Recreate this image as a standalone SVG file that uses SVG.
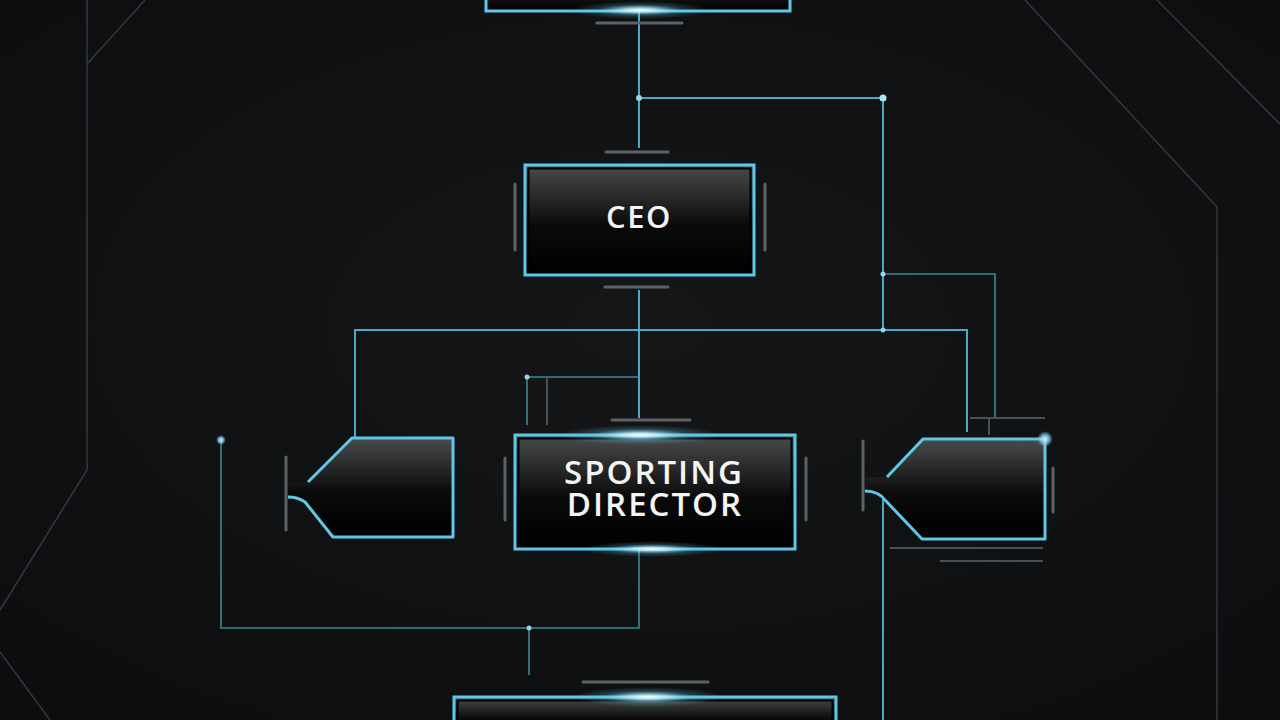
<svg xmlns="http://www.w3.org/2000/svg" width="1280" height="720" viewBox="0 0 1280 720">
<defs>
<radialGradient id="bg" cx="50%" cy="45%" r="75%">
<stop offset="0" stop-color="#151617"/>
<stop offset="1" stop-color="#0c0d0f"/>
</radialGradient>
<linearGradient id="fill" x1="0" y1="0" x2="0" y2="1">
<stop offset="0" stop-color="#4a4b4c"/>
<stop offset="0.55" stop-color="#0a0a0a"/>
<stop offset="1" stop-color="#000"/>
</linearGradient>
<radialGradient id="glow" cx="50%" cy="50%" r="50%">
<stop offset="0" stop-color="#ffffff" stop-opacity="1"/>
<stop offset="0.25" stop-color="#bff0ff" stop-opacity="0.8"/>
<stop offset="0.6" stop-color="#5ec8e8" stop-opacity="0.25"/>
<stop offset="1" stop-color="#5ec8e8" stop-opacity="0"/>
</radialGradient>
<radialGradient id="dotg" cx="50%" cy="50%" r="50%">
<stop offset="0" stop-color="#d8f4ff"/>
<stop offset="0.5" stop-color="#8fd6ee" stop-opacity="0.8"/>
<stop offset="1" stop-color="#5ec8e8" stop-opacity="0"/>
</radialGradient>
</defs>
<style>
.deco{fill:none;stroke:#34383c;stroke-width:1.5}
.wire{fill:none;stroke:#4aa9c4;stroke-width:2}
.wire2{fill:none;stroke:#3f8798;stroke-width:1.6}
.tick{fill:none;stroke:#5d6264;stroke-width:3;stroke-linecap:round}
.tick2{fill:none;stroke:#4a5053;stroke-width:2}
.box{fill:url(#fill);stroke:#5ec8e8;stroke-width:3}
.inner{fill:none;stroke:#000;stroke-width:2}
.lbl{font-family:"Open Sans","Liberation Sans",sans-serif;font-weight:600;fill:#f4f4f4;text-anchor:middle}
</style>
<rect width="1280" height="720" fill="url(#bg)"/>

<g id="background">
<path class="deco" d="M87 0 V470 L0 610"/>
<path class="deco" d="M87 64 L145 0"/>
<path class="deco" d="M0 652 L50 720"/>
<path class="deco" d="M1025 0 L1217 207 V720"/>
<path class="deco" d="M1157 0 L1280 124"/>
</g>

<g id="connectors">
<path class="wire" d="M639 12 V148"/>
<path class="wire" d="M639 98 H883 V330"/>
<path class="wire2" d="M883 274 H995 V418"/>
<path class="wire" d="M639 290 V418"/>
<path class="wire" d="M355 437 V330 H967 V432"/>
<path class="wire2" d="M639 377 H527 V425"/>
<path class="tick2" d="M547 377 V425"/>
<path class="tick2" d="M970 418 H1045 M989 418 V435"/>
<path class="wire" d="M883 492 V720"/>
<path class="wire2" d="M221 440 V628 H639 V549"/>
<path class="wire2" d="M529 628 V675"/>
<circle cx="221" cy="440" r="5" fill="url(#dotg)"/>
<circle cx="639" cy="98" r="3" fill="#8fd6ee"/>
<circle cx="883" cy="98" r="3.5" fill="#a9e3f5"/>
<circle cx="883" cy="274" r="2.5" fill="#8fd6ee"/>
<circle cx="883" cy="330" r="2.5" fill="#8fd6ee"/>
<circle cx="527" cy="377" r="2.5" fill="#8fd6ee"/>
<circle cx="529" cy="628" r="2.5" fill="#8fd6ee"/>
</g>

<g id="node-top">
<rect class="box" x="486" y="-10" width="304" height="21"/>
<path class="tick" d="M597 23 H682"/>
<ellipse cx="640" cy="10" rx="70" ry="9" fill="url(#glow)"/>
</g>

<g id="node-ceo">
<path class="tick" d="M606 152 H668"/>
<path class="tick" d="M515 184 V250 M765 184 V250"/>
<rect class="box" x="525" y="165" width="229" height="110"/>
<rect class="inner" x="528.5" y="168.5" width="222" height="103"/>
<text class="lbl" x="639" y="228" font-size="31" letter-spacing="1.5">CEO</text>
<path class="tick" d="M605 287 H668"/>
</g>

<g id="node-sporting-director">
<path class="tick" d="M612 420 H690"/>
<path class="tick" d="M505 458 V520 M806 458 V520"/>
<rect class="box" x="515" y="435" width="280" height="114"/>
<rect class="inner" x="518.5" y="438.5" width="273" height="107"/>
<ellipse cx="640" cy="435" rx="80" ry="10" fill="url(#glow)"/>
<ellipse cx="652" cy="549" rx="70" ry="8" fill="url(#glow)"/>
<text class="lbl" font-size="33" letter-spacing="2"><tspan x="654" y="484">SPORTING</tspan><tspan x="655" y="516">DIRECTOR</tspan></text>
</g>

<g id="node-left">
<path class="tick" d="M286 457 V530"/>
<path d="M352 438 H453 V537 H333 L303 500 Q297 497 288 497 V482 L308 482 Z" fill="url(#fill)"/>
<path d="M308 482 L352 438 H453 V537 H333 L305 502 Q298 497 288 497" fill="none" stroke="#5ec8e8" stroke-width="3" stroke-linejoin="round"/>
</g>

<g id="node-right">
<path class="tick" d="M863 441 V510 M1053 468 V512"/>
<path d="M923 439 H1045 V539 H922 L885 500 Q878 491 866 491 V477 L887 477 Z" fill="url(#fill)"/>
<path d="M887 477 L923 439 H1045 V539 H922 L886 501 Q879 491 865 491" fill="none" stroke="#5ec8e8" stroke-width="3" stroke-linejoin="round"/>
<ellipse cx="1045" cy="439" rx="8" ry="8" fill="url(#dotg)"/>
<path class="tick2" d="M890 548 H1043 M940 561 H1043"/>
</g>

<g id="node-bottom">
<path class="tick" d="M583 682 H708"/>
<rect class="box" x="454" y="697" width="382" height="40"/>
<rect class="inner" x="457.5" y="700.5" width="375" height="33"/>
<ellipse cx="648" cy="697" rx="75" ry="10" fill="url(#glow)"/>
</g>
</svg>
